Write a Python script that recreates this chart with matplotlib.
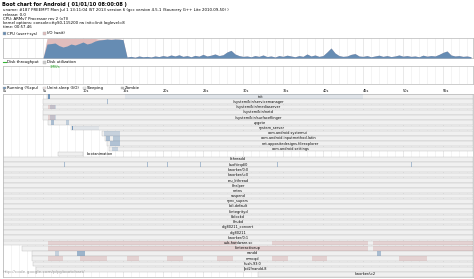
# ------------------------------- #
# BOOTCHART (ANDROID) RE-DRAWING  #
# ------------------------------- #

import matplotlib
matplotlib.use("Agg")
import matplotlib.pyplot as plt
from matplotlib.patches import Rectangle


# ---- #
# DATA #
# ---- #

TITLE = "Boot chart for Android ( 01/01/10 08:00:08 )"
HEADER_LINES = [
    "uname: #187 PREEMPT Mon Jul 1 13:11:04 IST 2013 version 6 (gcc version 4.5.1 (Sourcery G++ Lite 2010.09-50) )",
    "release: 0.0",
    "CPU: ARMv7 Processor rev 2 (v7l)",
    "kernel options: console=ttyS0,115200 rw init=/init loglevel=8",
    "time: 00:57.46",
]
WATERMARK = "http://code.google.com/p/pybootchart/"

CHART_END = 58.75          # seconds covered by the chart
SAMPLE_STEP = 0.5          # seconds between cpu samples
time_ticks = [0, 5, 10, 15, 20, 25, 30, 35, 40, 45, 50, 55]

# cpu (user+sys) fraction, one value every 0.5 s from 0 s
cpu_user_sys = [
    0, 0, 0, 0, 0, 0, 0, 0, 0, 0, 0,
    0.70, 0.72, 0.75, 0.62, 0.55, 0.60, 0.70, 0.65, 0.72, 0.80, 0.70, 0.75, 0.85,
    0.90, 0.92, 0.95, 0.93, 0.95, 0.94, 0.92,
    0.05, 0.08, 0.04, 0.10, 0.06, 0.08, 0.05, 0.10, 0.07, 0.12,
    0.08, 0.15, 0.10, 0.16, 0.08, 0.12, 0.06, 0.13, 0.09, 0.18,
    0.10, 0.14, 0.20, 0.12, 0.16, 0.30, 0.38, 0.20, 0.12, 0.08,
    0.10, 0.06, 0.12, 0.08, 0.15, 0.07, 0.10, 0.05, 0.12, 0.08,
    0.14, 0.10, 0.06, 0.12, 0.08, 0.20, 0.10, 0.15, 0.08, 0.12,
    0.30, 0.50, 0.25, 0.12, 0.08, 0.10, 0.18, 0.22, 0.10, 0.08,
    0.12, 0.06, 0.10, 0.14, 0.08, 0.12, 0.07, 0.10, 0.15, 0.09,
    0.12, 0.08, 0.10, 0.06, 0.14, 0.09, 0.12, 0.10, 0.18, 0.28,
    0.35, 0.15, 0.10, 0.12, 0.08, 0.10, 0.06,
]
# i/o wait fraction, same sampling
io_wait = [
    0, 0, 0, 0, 0, 0, 0, 0, 0, 0, 0,
    0.28, 0.26, 0.23, 0.36, 0.43, 0.38, 0.28, 0.33, 0.26, 0.18, 0.28, 0.23, 0.13,
    0.04, 0.03, 0.00, 0.02, 0.00, 0.01, 0.00,
    0, 0, 0, 0, 0, 0, 0, 0, 0, 0,
    0, 0, 0, 0, 0, 0, 0, 0, 0, 0,
    0, 0, 0, 0, 0, 0, 0, 0, 0, 0,
    0, 0, 0, 0, 0, 0, 0, 0, 0, 0,
    0, 0, 0, 0, 0, 0, 0, 0, 0, 0,
    0, 0, 0, 0, 0, 0, 0, 0, 0, 0,
    0, 0, 0, 0, 0, 0, 0, 0, 0, 0,
    0, 0, 0, 0, 0, 0, 0, 0, 0, 0,
    0, 0, 0, 0, 0, 0, 0,
]
DISK_MAX_LABEL = "3MB/s"

# processes: one row each
proc_names = [
    "init", "/system/bin/servicemanager", "/system/bin/mediaserver",
    "/system/bin/netd", "/system/bin/surfaceflinger", "zygote",
    "system_server", "com.android.systemui", "com.android.inputmethod.latin",
    "net.appositedesigns.fileexplorer", "com.android.settings", "bootanimation",
    "kthreadd", "ksoftirqd/0", "kworker/0:0", "kworker/u:0", "rcu_kthread",
    "khelper", "netns", "suspend", "sync_supers", "bdi-default", "kintegrityd",
    "kblockd", "khubd", "cfg80211_convert", "cfg80211", "kworker/0:1",
    "usb-hardware-sc", "kinteractiveup", "nandd", "mmcqd", "flush-93:0",
    "jbd2/nandd-8", "kworker/u:2",
]
proc_start = [
    5.5, 5.0, 5.0, 5.0, 5.0, 5.6, 8.5, 12.4, 12.7, 13.0, 13.2, 6.9,
    0, 0, 0, 0, 0, 0, 0, 0, 0, 0, 0,
    0, 0, 0, 0, 0, 0, 2.4, 3.6, 3.6, 3.8, 4.1, 31.9,
]
proc_end = [
    58.75, 58.75, 58.75, 58.75, 58.75, 58.75, 58.75, 58.75, 58.75, 58.75, 58.75, 10.0,
    58.75, 58.75, 58.75, 58.75, 58.75, 58.75, 58.75, 58.75, 58.75, 58.75, 58.75,
    58.75, 58.75, 58.75, 58.75, 58.75, 58.75, 58.75, 58.75, 58.75, 58.75, 58.75, 58.75,
]

# running (cpu) slices: process, from, to, cpu share
run_proc = ["init", "init", "/system/bin/mediaserver", "/system/bin/surfaceflinger",
            "zygote", "zygote", "system_server", "system_server",
            "com.android.systemui", "com.android.inputmethod.latin",
            "com.android.inputmethod.latin", "net.appositedesigns.fileexplorer",
            "com.android.settings", "nandd", "nandd", "nandd",
            "ksoftirqd/0", "ksoftirqd/0", "ksoftirqd/0", "ksoftirqd/0", "ksoftirqd/0",
            "ksoftirqd/0", "ksoftirqd/0", "ksoftirqd/0", "ksoftirqd/0",
            "kworker/0:1", "/system/bin/servicemanager"]
run_t0 = [5.6, 15.2, 5.9, 5.9, 6.0, 7.9, 8.6, 8.8, 12.6, 12.9, 13.8, 13.4, 13.6,
          6.5, 9.3, 46.8, 7.6, 18.0, 20.5, 22.2, 24.6, 34.3, 40.2, 51.0, 55.2,
          25.2, 13.0]
run_t1 = [5.9, 45.0, 6.6, 6.6, 6.4, 8.3, 8.8, 12.0, 14.6, 13.4, 14.6, 14.6, 14.4,
          7.0, 10.2, 47.3, 7.7, 18.1, 20.6, 22.3, 24.7, 34.4, 40.3, 51.1, 55.3,
          25.3, 13.1]
run_cpu = [0.9, 0.12, 0.25, 0.25, 0.5, 0.35, 0.9, 0.1, 0.3, 0.5, 0.4, 0.45, 0.3,
           0.3, 0.6, 0.5, 0.5, 0.5, 0.5, 0.5, 0.5, 0.5, 0.5, 0.5, 0.5,
           0.5, 0.5]

# uninterruptible sleep (i/o) slices: process, from, to
dsl_proc = ["/system/bin/mediaserver", "/system/bin/surfaceflinger",
            "usb-hardware-sc", "usb-hardware-sc", "usb-hardware-sc",
            "kinteractiveup", "kinteractiveup",
            "mmcqd", "mmcqd", "mmcqd", "mmcqd", "mmcqd", "mmcqd", "mmcqd", "mmcqd"]
dsl_t0 = [5.6, 5.6, 5.6, 33.6, 46.2, 5.6, 46.2,
          5.6, 9.6, 15.5, 20.5, 26.7, 33.6, 38.6, 49.5]
dsl_t1 = [6.5, 6.5, 29.2, 45.6, 58.75, 45.6, 58.75,
          7.5, 13.0, 17.0, 22.5, 28.7, 35.6, 40.5, 53.0]


# ------ #
# STYLES #
# ------ #

W, H = 474, 279
CPU_COLOR = (0.40, 0.55, 0.70)
IO_COLOR = (0.88, 0.74, 0.74)
DISK_TPUT_COLOR = (0.20, 0.71, 0.20)
DISK_UTIL_COLOR = (0.80, 0.80, 0.80)
PROC_S = (0.94, 0.94, 0.94)
PROC_D = (0.76, 0.48, 0.48)
PROC_Z = (0.71, 0.71, 0.71)
PROC_BORDER = (0.74, 0.74, 0.74)
BORDER = (0.72, 0.72, 0.72)
TICK = (0.93, 0.93, 0.93)
TICK_BOLD = (0.85, 0.85, 0.85)

FS_TITLE = 3.6
FS_TEXT = 2.75
FS_PROC = 2.5

plt.rcParams["font.family"] = ["DejaVu Sans"]


def px_axes(fig, x0, y0, x1, y1):
    # axes placed by pixel box (top-left origin)
    return fig.add_axes([x0 / W, 1 - y1 / H, (x1 - x0) / W, (y1 - y0) / H])


def time_grid(ax):
    for s in range(0, int(CHART_END) + 1):
        ax.axvline(s, color=TICK_BOLD if s % 5 == 0 else TICK, lw=0.4, zorder=0)
    ax.set_xlim(0, CHART_END)
    ax.set_xticks([])
    ax.set_yticks([])
    for sp in ax.spines.values():
        sp.set_color(BORDER)
        sp.set_linewidth(0.5)


# ------ #
# FIGURE #
# ------ #

fig = plt.figure(figsize=(W / 100, H / 100), dpi=100)
fig.patch.set_facecolor("white")

# --- cpu chart --- #
ax_cpu = px_axes(fig, 3, 38, 473, 58)
time_grid(ax_cpu)
times = [i * SAMPLE_STEP for i in range(len(cpu_user_sys))]
total = [c + w for c, w in zip(cpu_user_sys, io_wait)]
ax_cpu.fill_between(times, 0, total, color=IO_COLOR, lw=0, zorder=2)
ax_cpu.fill_between(times, 0, cpu_user_sys, color=CPU_COLOR, lw=0, zorder=3)
ax_cpu.set_ylim(0, 1)

# --- disk chart --- #
ax_disk = px_axes(fig, 3, 66, 473, 84)
time_grid(ax_disk)
ax_disk.set_ylim(0, 1)
ax_disk.text(5.8, 0.93, DISK_MAX_LABEL, color=DISK_TPUT_COLOR, fontsize=FS_PROC,
             va="center", ha="left")

# --- process chart --- #
n_rows = len(proc_names)
ax_p = px_axes(fig, 3, 94, 473, 277)
time_grid(ax_p)
ax_p.set_ylim(n_rows, 0)
row_of = {name: i for i, name in enumerate(proc_names)}

for i, (name, t0, t1) in enumerate(zip(proc_names, proc_start, proc_end)):
    ax_p.add_patch(Rectangle((t0, i + 0.05), t1 - t0, 0.9, fc=PROC_S,
                             ec=PROC_BORDER, lw=0.3, zorder=2))

for name, t0, t1 in zip(dsl_proc, dsl_t0, dsl_t1):
    i = row_of[name]
    ax_p.add_patch(Rectangle((t0, i + 0.05), t1 - t0, 0.9, fc=PROC_D,
                             alpha=0.25, lw=0, zorder=3))

for name, t0, t1, c in zip(run_proc, run_t0, run_t1, run_cpu):
    i = row_of[name]
    ax_p.add_patch(Rectangle((t0, i + 0.05), t1 - t0, 0.9, fc=CPU_COLOR,
                             alpha=c, lw=0, zorder=4))

for i, (name, t0, t1) in enumerate(zip(proc_names, proc_start, proc_end)):
    if t1 - t0 < 6:
        ax_p.text(t1 + 0.4, i + 0.5, name, fontsize=FS_PROC, va="center",
                  ha="left", zorder=5)
    else:
        ax_p.text((t0 + t1) / 2, i + 0.5, name, fontsize=FS_PROC, va="center",
                  ha="center", zorder=5)

for s in time_ticks:
    ax_p.text(s, -0.62, f"{s}s", fontsize=FS_PROC, va="center", ha="left",
              clip_on=False)


# --- header text + legends (pixel overlay) --- #
ov = fig.add_axes([0, 0, 1, 1], zorder=10)
ov.set_xlim(0, W)
ov.set_ylim(H, 0)
ov.axis("off")
ov.patch.set_alpha(0)

ov.text(2, 4.5, TITLE, fontsize=FS_TITLE, weight="bold", va="center", ha="left")
for k, line in enumerate(HEADER_LINES):
    ov.text(3, 10.3 + 4.2 * k, line, fontsize=FS_TEXT, va="center", ha="left")


def legend_box(x, y, color, label, line=False):
    if line:
        ov.plot([x, x + 3.5], [y, y], color=color, lw=0.8)
    else:
        ov.add_patch(Rectangle((x, y - 1.3), 2.6, 2.6, fc=color, ec=BORDER, lw=0.3))
    ov.text(x + 4.2, y, label, fontsize=FS_TEXT, va="center", ha="left")


legend_box(3, 33.5, CPU_COLOR, "CPU (user+sys)")
legend_box(43, 33.5, IO_COLOR, "I/O (wait)")
legend_box(3, 62.3, DISK_TPUT_COLOR, "Disk throughput", line=True)
legend_box(43, 62.3, DISK_UTIL_COLOR, "Disk utilization")
legend_box(3, 88, CPU_COLOR, "Running (%cpu)")
legend_box(43, 88, (0.95, 0.90, 0.90), "Unint.sleep (I/O)")
legend_box(83, 88, PROC_S, "Sleeping")
legend_box(121, 88, PROC_Z, "Zombie")

ov.text(3, 272, WATERMARK, fontsize=3.1, color=(0.62, 0.62, 0.62),
        va="center", ha="left")

fig.savefig("out.png", dpi=100)
